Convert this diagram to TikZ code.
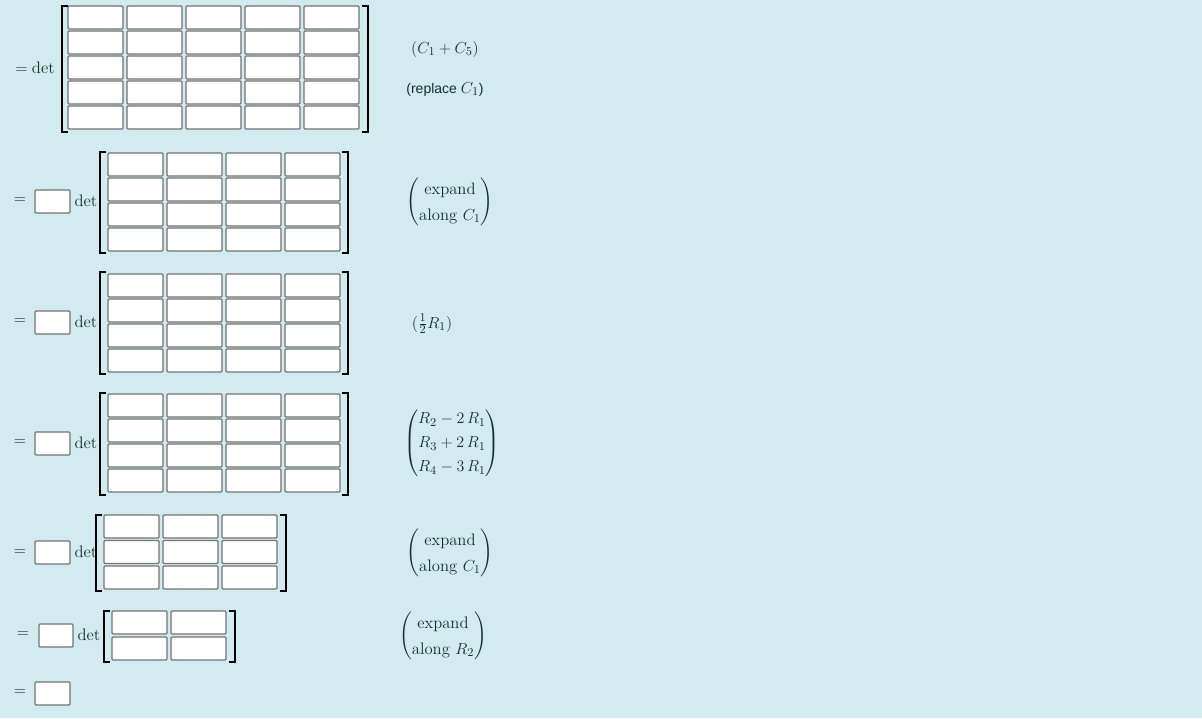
\documentclass[tikz,border=0pt]{standalone}
\usepackage{amsmath}
\usepackage{fontspec}
\newfontfamily\arialf{Liberation Sans}
\definecolor{bg}{HTML}{D2EBF0}
\definecolor{ink}{HTML}{10302F}
\tikzset{
  cellbox/.style={draw=black!55,fill=white,line width=0.9pt,rounded corners=0.8pt},
  brk/.style={draw=black,line width=0.9pt},
  txt/.style={text=ink,inner sep=0pt,font=\fontsize{12.5}{15}\selectfont},
}
\newcommand{\cellgrid}[6]{% x0 y0 ncols nrows dx dy
  \foreach \i in {1,...,#3}{\foreach \j in {1,...,#4}{
    \draw[cellbox] ({#1+(\i-1)*#5},{#2+(\j-1)*#6}) rectangle ++(55,23);}}}
\newcommand{\mybrk}[4]{% xl yt xr yb
  \draw[brk] (#1+6,#2) -- (#1,#2) -- (#1,#4) -- (#1+6,#4);
  \draw[brk] (#3-6,#2) -- (#3,#2) -- (#3,#4) -- (#3-6,#4);}
\begin{document}
\begin{tikzpicture}[x=0.75pt,y=-0.75pt]
\fill[bg] (0,0) rectangle (1202,718);
\useasboundingbox (0,0) rectangle (1202,718);
% row 1
\node[txt] (e1) at (35,68) {$=\det$};
\cellgrid{68}{6}{5}{5}{59}{25}
\mybrk{62}{6}{368}{132}
\node[txt] (l1) at (445,49) {$(C_1+C_5)$};
\node[txt] (l1b) at (445,89) {{\arialf\fontsize{10.5}{12}\selectfont (replace }$C_1${\arialf\fontsize{10.5}{12}\selectfont )}};
% row 2
\node[txt] (e2) at (20,201) {$=$};
\draw[cellbox] (35,190) rectangle (70,213);
\node[txt] (d2) at (86,201) {$\det$};
\cellgrid{108}{153}{4}{4}{59}{25}
\mybrk{100}{152}{348}{253}
\node[txt] (l2) at (450,202) {$\renewcommand{\arraystretch}{1.3}\left(\begin{matrix}\text{expand}\\ \text{along } C_1\end{matrix}\right)$};
% row 3
\node[txt] (e3) at (20,322) {$=$};
\draw[cellbox] (35,311) rectangle (70,334);
\node[txt] (d3) at (86,322) {$\det$};
\cellgrid{108}{274}{4}{4}{59}{25}
\mybrk{100}{272}{348}{374}
\node[txt] (l3) at (432,324) {$(\tfrac{1}{2}R_1)$};
% row 4
\node[txt] (e4) at (20,443) {$=$};
\draw[cellbox] (35,432) rectangle (70,455);
\node[txt] (d4) at (86,443) {$\det$};
\cellgrid{108}{394}{4}{4}{59}{25}
\mybrk{100}{393}{348}{495}
\node[txt] (l4) at (452,443) {$\renewcommand{\arraystretch}{1.2}\left(\begin{matrix}R_2-2\,R_1\\ R_3+2\,R_1\\ R_4-3\,R_1\end{matrix}\right)$};
% row 5
\node[txt] (e5) at (20,553) {$=$};
\draw[cellbox] (35,541) rectangle (70,564);
\node[txt] (d5) at (86,552) {$\det$};
\cellgrid{104}{515}{3}{3}{59}{25.5}
\mybrk{96}{515}{286}{591}
\node[txt] (l5) at (450,553) {$\renewcommand{\arraystretch}{1.3}\left(\begin{matrix}\text{expand}\\ \text{along } C_1\end{matrix}\right)$};
% row 6
\node[txt] (e6) at (23,635) {$=$};
\draw[cellbox] (39,624) rectangle (73,647);
\node[txt] (d6) at (89,635) {$\det$};
\cellgrid{112}{611}{2}{2}{59}{26}
\mybrk{104}{611}{235}{662}
\node[txt] (l6) at (443,636) {$\renewcommand{\arraystretch}{1.3}\left(\begin{matrix}\text{expand}\\ \text{along } R_2\end{matrix}\right)$};
% row 7
\node[txt] (e7) at (20,693) {$=$};
\draw[cellbox] (35,682) rectangle (70,705);
\end{tikzpicture}
\end{document}
